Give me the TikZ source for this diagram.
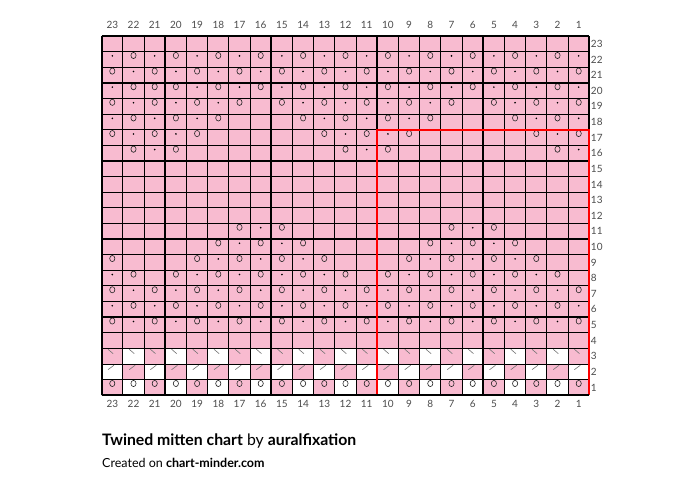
\documentclass[tikz,border=0pt]{standalone}
\usepackage{fontspec}
\setmainfont{Lato}
\definecolor{chartpink}{RGB}{248,187,208}
\tikzset{
  thinline/.style={line width=1pt},
  thickline/.style={line width=2pt},
  repeatline/.style={line width=2pt, draw=red},
  numlbl/.style={font=\fontsize{10}{12}\selectfont, text=black!70, inner sep=0pt},
  purlsym/.style={draw=black!85, line width=0.6pt},
  slashsym/.style={draw=black!55, line width=0.6pt},
}
\newcommand{\kstn}{}
\newcommand{\ksto}{\draw[purlsym] (0pt,4pt) ellipse (2.6pt and 3.1pt);}
\newcommand{\kstd}{\fill[black] (0pt,3.6pt) circle (0.9pt);}
\newcommand{\kstb}{\draw[slashsym] (-4.3pt,7pt) -- (0.8pt,2.6pt);}
\newcommand{\ksts}{\draw[slashsym] (-4.3pt,2.2pt) -- (1.6pt,6.6pt);}
\begin{document}
\begin{tikzpicture}[x=1pt,y=-1pt]
\useasboundingbox[fill=white] (0,0) rectangle (690,495);
\begin{scope}[shift={(101.7,395.3)},x=21.2pt,y=15.62pt]
\fill[chartpink] (0,0) rectangle (23,23);
\foreach \i in {1,3,...,21} {
  \fill[white] (\i,2) rectangle (\i+1,3);
  \fill[white] (\i,0) rectangle (\i+1,1);
}
\foreach \i in {0,2,...,22}
  \fill[white] (\i,1) rectangle (\i+1,2);
\foreach \r/\codes in {
  22/{d,o,d,o,d,o,d,o,d,o,d,o,d,o,d,o,d,o,d,o,d,o,d},
  21/{o,d,o,d,o,d,o,d,o,d,o,d,o,d,o,d,o,d,o,d,o,d,o},
  20/{d,o,o,o,d,o,d,o,d,o,d,o,d,o,d,o,d,o,d,o,d,o,d},
  19/{o,d,o,d,o,d,o,n,o,d,o,d,o,d,o,d,o,n,o,d,o,d,o},
  18/{d,o,d,o,d,o,n,n,n,o,d,o,d,o,d,o,n,n,n,o,d,o,d},
  17/{o,d,o,d,o,n,n,n,n,n,o,d,o,d,o,n,n,n,n,n,o,d,o},
  16/{n,o,d,o,n,n,n,n,n,n,n,o,d,o,n,n,n,n,n,n,n,o,d},
  11/{n,n,n,n,n,n,o,d,o,n,n,n,n,n,n,n,o,d,o,n,n,n,n},
  10/{n,n,n,n,n,o,d,o,d,o,n,n,n,n,n,o,d,o,d,o,n,n,n},
  9/{o,n,n,n,o,d,o,d,o,d,o,n,n,n,o,d,o,d,o,d,o,n,n},
  8/{d,o,n,o,d,o,d,o,d,o,d,o,n,o,d,o,d,o,d,o,d,o,n},
  7/{o,d,o,d,o,d,o,d,o,d,o,d,o,d,o,d,o,d,o,d,o,d,o},
  6/{d,o,d,o,d,o,d,o,d,o,d,o,d,o,d,o,d,o,d,o,d,o,d},
  5/{o,d,o,d,o,d,o,d,o,d,o,d,o,d,o,d,o,d,o,d,o,d,o},
  3/{b,b,b,b,b,b,b,b,b,b,b,b,b,b,b,b,b,b,b,b,b,b,b},
  2/{s,s,s,s,s,s,s,s,s,s,s,s,s,s,s,s,s,s,s,s,s,s,s},
  1/{o,o,o,o,o,o,o,o,o,o,o,o,o,o,o,o,o,o,o,o,o,o,o}} {
  \foreach \k [count=\i from 0] in \codes {
    \begin{scope}[shift={(\i+0.5,\r-0.5)}]
      \csname kst\k\endcsname
    \end{scope}
  }
}
\foreach \i in {0,...,23} {
  \draw[thinline] (\i,0) -- (\i,23);
  \draw[thinline] (0,\i) -- (23,\i);
}
\foreach \i in {0,3,8,13,18,23}
  \draw[thickline] (\i,0) -- (\i,23);
\foreach \i in {0,5,10,15,20,23}
  \draw[thickline] (0,\i) -- (23,\i);
\draw[repeatline] (13,0) -- (13,17) -- (23,17) -- (23,0);
\draw[thickline] (0,0) -- (23,0);
\foreach \c in {1,...,23} {
  \node[numlbl] (top\c) at (23.5-\c,23.7) {\c};
  \node[numlbl] (bot\c) at (23.5-\c,-0.56) {\c};
  \node[numlbl,anchor=west] (row\c) at (23.07,\c-0.5) {\c};
}
\end{scope}
\node[anchor=base west,inner sep=0pt,font=\fontsize{15.8}{18}\selectfont] (title) at (102,445)
  {\textbf{Twined mitten chart} by \textbf{auralfixation}};
\node[anchor=base west,inner sep=0pt,font=\fontsize{12.5}{14}\selectfont] (credit) at (102,467.5)
  {Created on \textbf{chart-minder.com}};
\end{tikzpicture}
\end{document}
